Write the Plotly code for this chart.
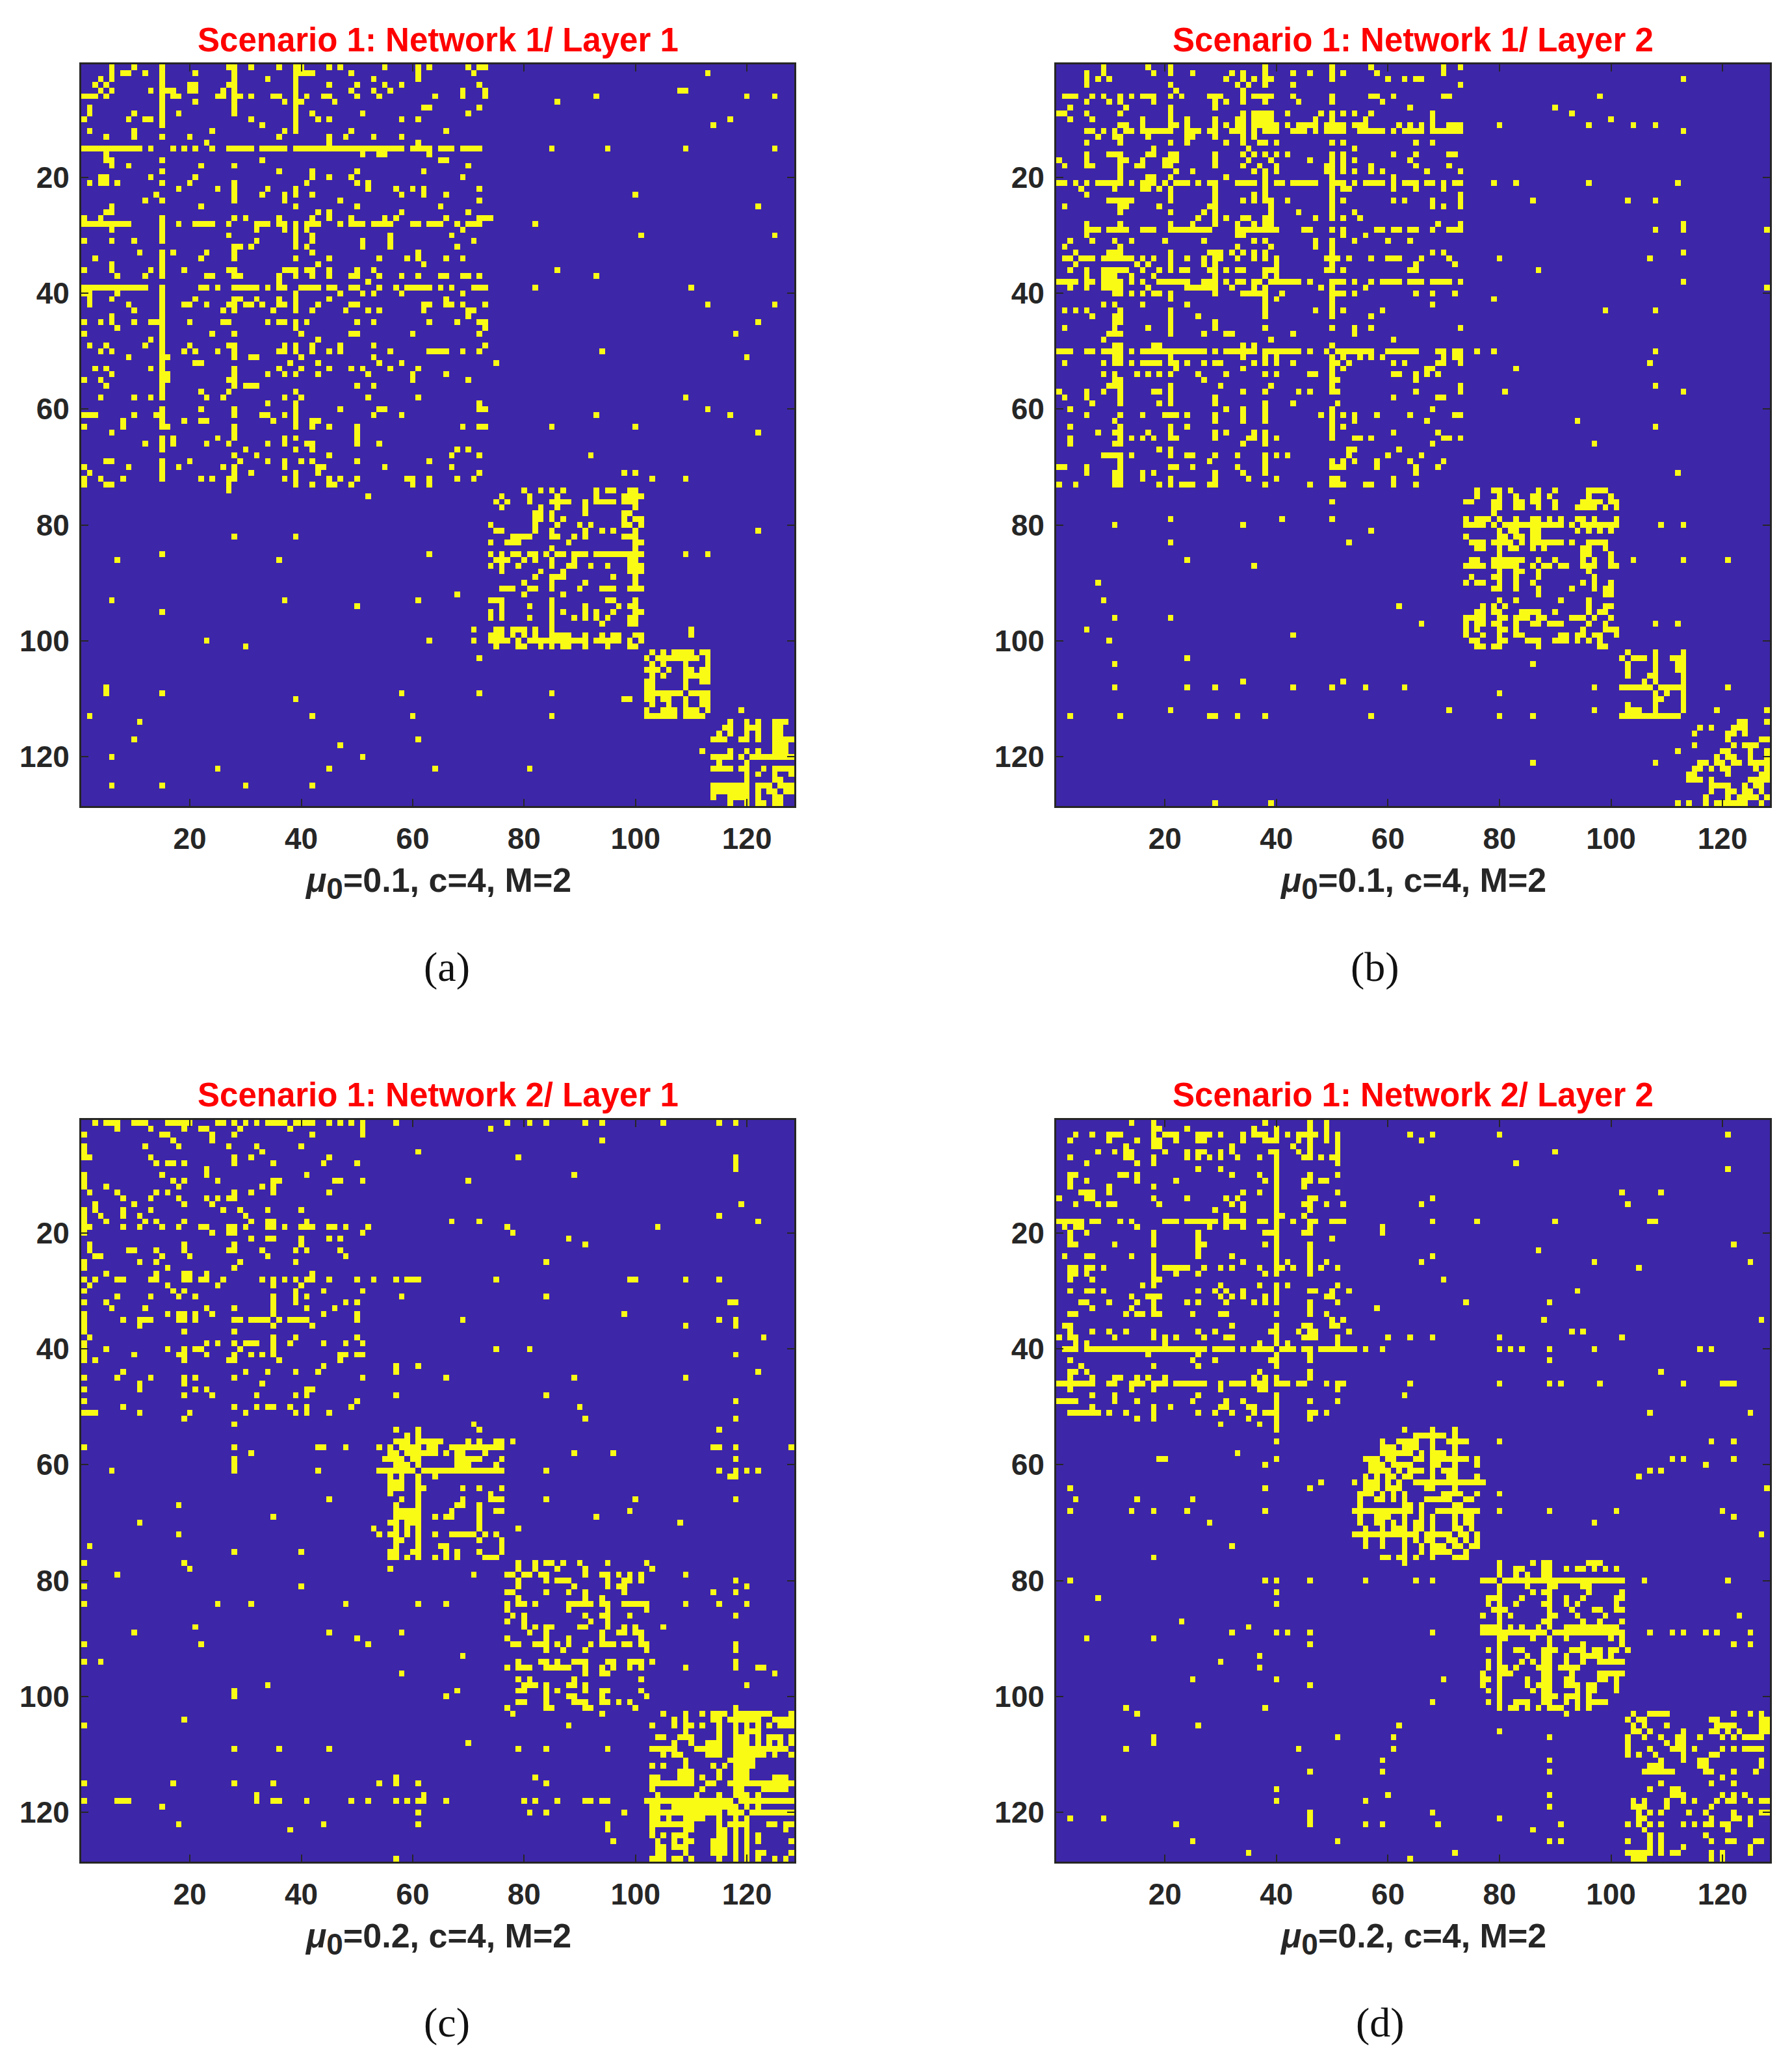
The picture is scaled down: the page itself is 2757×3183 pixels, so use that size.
import numpy as np
import plotly.graph_objects as go

# each entry is (row, columns) for the upper triangle, the matrices are symmetric
net1_layer1 = [
    (1, [6, 10, 15, 27, 28, 31, 36, 39, 40, 45, 47, 55, 61, 63, 70, 72, 73]),
    (2, [6, 8, 9, 12, 15, 21, 28, 39, 40, 41, 42, 49, 61, 71, 113]),
    (3, [4, 6, 15, 28, 34, 39, 53, 61]),
    (4, [5, 15, 20, 21, 27, 28, 39, 45, 50, 55, 58, 72]),
    (5, [6, 13, 15, 16, 17, 20, 21, 26, 28, 39, 49, 53, 56, 69, 73, 108, 109]),
    (6, [15, 17, 18, 25, 26, 28, 29, 31, 35, 36, 39, 41, 44, 45, 50, 54, 64, 69, 73, 93, 120, 125]),
    (7, [15, 21, 28, 37, 39, 40, 46, 86]),
    (8, [15, 28, 39, 62, 63, 72]),
    (9, [10, 15, 18, 28, 39, 42, 51, 70]),
    (10, [12, 13, 15, 31, 39, 43, 45, 58, 61, 117]),
    (11, [15, 33, 39, 114]),
    (12, [24, 37, 39, 49, 66]),
    (13, [15, 20, 36, 45, 48, 53, 58]),
    (14, [23, 45, 61]),
    (15, [17, 19, 21, 24, 27, 28, 29, 30, 31, 33, 34, 35, 36, 37, 39, 40, 41, 42, 43, 44, 45, 46, 47, 48,
          49, 50, 51, 52, 53, 54, 55, 56, 57, 58, 60, 61, 62, 63, 65, 66, 67, 69, 70, 71, 72, 85, 95, 109, 125]),
    (16, [51, 54, 55, 63]),
    (17, [33, 65, 66]),
    (18, [22, 28, 70]),
    (19, [36, 42, 50, 62]),
    (20, [21, 42, 45, 49, 69]),
    (21, [28, 41, 50, 52]),
    (22, [25, 28, 34, 39, 52, 57, 60, 62, 72]),
    (23, [28, 33, 37, 39, 42, 58, 62, 66, 100]),
    (24, [28, 37, 47, 72]),
    (25, [39, 50, 65, 122]),
    (26, [43, 45, 58, 70]),
    (27, [28, 30, 36, 42, 45, 49, 55, 57, 66, 72, 73, 74]),
    (28, [32, 33, 34, 36, 37, 39, 41, 42, 43, 47, 49, 50, 51, 53, 54, 55, 56, 60, 61, 63, 64, 65, 68, 70, 71, 72, 82]),
    (29, [32, 37, 39, 41, 69]),
    (30, [39, 42, 56, 67, 101, 125]),
    (31, [32, 39, 42, 51, 56, 71]),
    (32, [39, 41, 51, 56, 68]),
    (33, [42, 61]),
    (34, [39, 45, 54, 59, 61, 66, 69]),
    (35, [43, 62]),
    (36, [37, 38, 39, 41, 42, 45, 50, 53, 86]),
    (37, [39, 42, 45, 49, 50, 54, 58, 61, 65, 66, 69, 70, 72, 93]),
    (38, [52]),
    (39, [40, 41, 42, 43, 45, 46, 49, 50, 54, 57, 59, 60, 61, 62, 63, 65, 67, 71, 72, 73, 82, 110]),
    (40, [47, 51, 53, 58, 69]),
    (41, [45, 66]),
    (42, [43, 49, 50, 62, 63, 66, 67, 69, 73, 113, 125]),
    (43, [48, 52, 54, 62, 70, 71]),
    (44, [70]),
    (45, [50, 53, 63, 68, 72, 73, 122]),
    (46, [73]),
    (47, [49, 50, 60, 72, 118]),
    (49, [53, 73]),
    (50, [56, 63, 64, 65, 66, 69, 72, 94]),
    (51, [53, 120]),
    (52, [54, 58, 75]),
    (53, [56, 61]),
    (54, [60, 66]),
    (55, [60, 70]),
    (58, [61, 109]),
    (59, [72]),
    (60, [72, 73, 113]),
    (61, [93, 117]),
    (63, [69, 72, 73, 85, 100]),
    (64, [122]),
    (67, [68, 70]),
    (68, [72, 92]),
    (71, [72, 98, 100]),
    (72, [103, 109]),
    (74, [80, 83, 85, 87, 93, 95, 96, 99, 100]),
    (75, [76, 81, 86, 93, 98, 99, 100, 101]),
    (76, [77, 81, 85, 86, 87, 88, 91, 93, 94, 95, 96, 98, 99, 100]),
    (77, [83, 86, 91, 100]),
    (78, [82, 83, 85, 91, 98, 99]),
    (79, [82, 83, 85, 87, 98, 100, 101]),
    (80, [82, 86, 90, 92, 98, 99, 101]),
    (81, [82, 85, 91, 94, 96, 100, 122]),
    (82, [85, 86, 89, 91, 98, 99, 100]),
    (83, [88, 100, 101]),
    (84, [85, 100]),
    (85, [86, 87, 89, 90, 91, 93, 94, 95, 96, 97, 98, 99, 100, 101, 109, 113]),
    (86, [89, 99, 100]),
    (87, [88, 89, 92, 95, 99, 100, 101]),
    (88, [99, 100, 101]),
    (89, [96, 100]),
    (90, [91, 100]),
    (91, [94, 95, 96, 99, 100, 101]),
    (93, [95, 96, 100]),
    (94, [97, 99, 100]),
    (95, [96, 100, 101]),
    (96, [99, 100]),
    (97, [99, 100]),
    (98, [110]),
    (99, [100, 101, 110]),
    (100, [101]),
    (102, [103, 105, 107, 108, 109, 110, 112, 113]),
    (103, [104, 105, 106, 107, 108, 109, 110, 111, 113]),
    (104, [105, 109, 113]),
    (105, [106, 109, 110, 112, 113]),
    (106, [109, 110, 111, 112, 113]),
    (107, [109, 112, 113]),
    (108, [109]),
    (109, [110, 111, 112, 113]),
    (110, [112, 113]),
    (111, [112, 113]),
    (112, [113, 119]),
    (114, [117, 120, 122, 125, 126, 127]),
    (115, [116, 117, 120, 121, 122, 125, 126]),
    (116, [117, 120, 122, 125, 126]),
    (117, [119, 120, 122, 125, 126, 127, 128]),
    (118, [125, 126, 127]),
    (119, [120, 122, 125, 126, 127]),
    (120, [121, 122, 123, 124, 125, 126, 127, 128]),
    (122, [123, 125, 126, 127, 128]),
    (123, [125, 128]),
    (124, [125, 126]),
    (125, [126, 127, 128]),
    (126, [127, 128]),
]

net1_layer2 = [
    (1, [9, 17, 21, 38, 50, 57, 70, 73]),
    (2, [6, 9, 18, 21, 25, 32, 34, 38, 43, 46, 50, 52, 58, 70]),
    (3, [6, 8, 10, 31, 34, 36, 38, 39, 50, 60, 63, 65, 66, 113]),
    (4, [6, 21, 33, 35, 38, 43, 73]),
    (5, [22, 34]),
    (6, [7, 9, 12, 14, 16, 17, 18, 21, 23, 28, 29, 30, 34, 36, 37, 38, 39, 43, 50, 57, 58, 61, 70, 71, 98]),
    (7, [10, 12, 18, 29, 31, 34, 38, 44, 50, 59]),
    (8, [13, 21, 29, 64, 90]),
    (9, [12, 21, 34, 36, 37, 38, 39, 42, 48, 50, 52, 54, 57, 68, 93]),
    (10, [16, 21, 24, 29, 33, 34, 36, 37, 38, 39, 47, 50, 56, 68, 100]),
    (11, [12, 13, 16, 21, 22, 24, 29, 31, 33, 34, 36, 37, 38, 39, 40, 42, 44, 45, 46, 47, 49, 50, 51, 52, 54,
          55, 56, 62, 64, 66, 68, 71, 72, 73, 80, 96, 104, 108]),
    (12, [13, 14, 16, 17, 18, 19, 20, 21, 24, 25, 26, 28, 29, 32, 33, 34, 36, 38, 39, 40, 43, 44, 45, 47, 49,
          50, 51, 52, 55, 56, 57, 58, 59, 61, 63, 64, 65, 66, 68, 69, 70, 71, 72, 73, 113]),
    (13, [17, 24, 25, 29, 34, 36]),
    (14, [21, 24, 31, 34, 37, 38, 40, 50, 52, 65, 68]),
    (15, [18, 35, 54]),
    (16, [17, 18, 21, 22, 29, 34, 36, 38, 40, 42, 50, 52, 61, 65, 71, 72]),
    (17, [20, 21, 22, 29, 35, 39, 46, 50, 52, 54, 64]),
    (18, [20, 21, 29, 34, 37, 40, 49, 50, 52, 57, 65, 71]),
    (19, [22, 25, 36, 38, 40, 49, 50, 52, 54, 57, 59, 67, 73]),
    (20, [21, 31, 38, 50, 61]),
    (21, [22, 23, 24, 26, 28, 29, 33, 34, 35, 36, 38, 40, 41, 43, 44, 45, 46, 47, 50, 51, 52, 54, 56, 57, 58,
          59, 61, 63, 64, 65, 67, 68, 70, 72, 73, 79, 83, 96, 112]),
    (22, [29, 38, 50, 52, 53, 61, 65, 70]),
    (23, [29, 36, 38, 50, 73]),
    (24, [29, 34, 36, 38, 39, 42, 50, 52, 61, 63, 68, 73, 86, 103, 108]),
    (25, [28, 29, 39, 50, 68, 70, 73]),
    (26, [27, 29, 39, 44, 50, 54]),
    (27, [29, 31, 34, 35, 38, 39, 47, 50, 52, 55]),
    (28, [29, 33, 36, 38, 39, 69, 73, 113]),
    (29, [33, 34, 35, 36, 37, 38, 39, 40, 45, 46, 50, 52, 58, 59, 61, 62, 64, 65, 68, 71, 72, 73, 108, 113, 128]),
    (30, [33, 34, 52, 56]),
    (31, [36, 38, 47, 50, 54, 60, 64]),
    (32, [33, 39, 47, 50]),
    (33, [34, 36, 38, 50, 68, 70, 113]),
    (34, [36, 38, 40, 49, 50, 51, 53, 57, 60, 61, 62, 66, 71, 80, 107]),
    (35, [40, 50, 65, 72]),
    (36, [38, 39, 40, 49, 50, 52, 64, 65, 87]),
    (37, [38, 40]),
    (38, [39, 40, 41, 42, 43, 44, 46, 50, 51, 52, 54, 57, 59, 60, 61, 62, 64, 65, 66, 68, 69, 70, 71, 73, 113]),
    (39, [48, 50, 56, 128]),
    (40, [41, 50, 51, 52, 54, 65, 68, 72]),
    (41, [50, 79]),
    (42, [50, 68]),
    (43, [47, 50, 52, 59, 99, 108]),
    (44, [50, 57]),
    (46, [50, 54, 57, 73]),
    (47, [54]),
    (48, [61]),
    (49, [50]),
    (50, [51, 52, 53, 54, 55, 56, 57, 60, 61, 62, 63, 64, 65, 69, 70, 72, 73, 76, 79, 108]),
    (51, [52, 55, 57, 59, 70, 72, 73]),
    (52, [53, 61, 63, 69, 70, 73, 107]),
    (53, [67, 68, 83]),
    (54, [61, 62, 65, 67, 69]),
    (55, [65]),
    (56, [73, 108]),
    (57, [65, 73, 81, 113]),
    (58, [61, 69, 70]),
    (60, [68]),
    (61, [64, 72, 73]),
    (62, [67, 94]),
    (63, [108]),
    (64, [69]),
    (65, [70, 71, 73]),
    (66, [68, 97]),
    (69, [70]),
    (71, [112]),
    (74, [76, 79, 80, 82, 87, 90, 96, 97, 98, 99]),
    (75, [76, 80, 83, 86, 87, 89, 96, 100]),
    (76, [79, 80, 83, 84, 86, 87, 90, 95, 96, 97, 98, 100, 101]),
    (77, [79, 80, 83, 84, 87, 90, 94, 95, 96, 97, 99, 101]),
    (78, [79]),
    (79, [80, 83, 86, 87, 89, 91, 94, 95, 97, 101]),
    (80, [81, 82, 83, 84, 85, 86, 87, 88, 89, 90, 91, 93, 95, 96, 97, 98, 99, 100, 101, 109, 113]),
    (81, [82, 83, 86, 87, 94, 96, 98, 100]),
    (82, [83, 84, 86, 87]),
    (83, [84, 86, 87, 88, 89, 90, 91, 93, 96, 97, 98, 99]),
    (84, [86, 88, 95, 96, 99]),
    (85, [95, 96, 100]),
    (86, [87, 90, 95, 97, 100, 104, 113, 121]),
    (87, [88, 89, 91, 92, 95, 96, 97, 100, 101]),
    (88, [96]),
    (89, [97]),
    (90, [95, 97, 100]),
    (91, [93, 97, 99, 100]),
    (92, [99, 100]),
    (93, [96]),
    (94, [96, 99, 100]),
    (95, [96, 98, 99]),
    (96, [97, 100]),
    (97, [99, 108, 112]),
    (98, [99, 100, 101]),
    (99, [101]),
    (102, [103, 108, 113]),
    (103, [104, 105, 106, 108, 111, 112, 113]),
    (104, [108, 112, 113]),
    (105, [108, 112, 113]),
    (106, [107, 108, 113]),
    (107, [108, 113]),
    (108, [109, 110, 111, 112, 113, 121]),
    (109, [110, 113]),
    (110, [113]),
    (111, [113]),
    (112, [113, 119, 128]),
    (114, [123, 124, 128]),
    (115, [116, 118, 122, 123, 124]),
    (116, [121, 122, 124]),
    (117, [121, 127, 128]),
    (118, [122, 124, 125, 126]),
    (119, [120, 121, 125, 128]),
    (120, [121, 122, 125, 128]),
    (121, [122, 123, 125, 126, 127, 128]),
    (122, [126, 128]),
    (123, [127, 128]),
    (124, [125, 126, 127, 128]),
    (125, [126, 127]),
    (126, [127]),
    (127, [128]),
]

net2_layer1 = [
    (1, [3, 5, 6, 7, 10, 11, 12, 16, 17, 18, 19, 20, 25, 26, 28, 30, 32, 34, 35, 36, 37, 39, 40, 41, 42, 45,
         47, 49, 51, 57, 77, 81, 84, 91, 94, 105, 115, 118]),
    (2, [7, 13, 19, 22, 23, 29, 38, 51, 74]),
    (3, [15, 16, 24, 28, 42, 51]),
    (4, [17, 24, 94]),
    (5, [12, 18, 27, 32, 40]),
    (6, [33, 61]),
    (7, [13, 28, 31, 45, 79, 118]),
    (8, [14, 16, 17, 19, 28, 35, 44, 50, 118]),
    (9, [23, 118]),
    (10, [15, 23, 41, 89]),
    (11, [17, 19, 25, 35, 36, 46, 47, 51, 70]),
    (12, [18, 33, 35]),
    (13, [14, 16, 28, 31, 35, 45]),
    (14, [18, 23, 25, 27, 28]),
    (15, [19, 24, 119]),
    (16, [26, 29, 34, 40]),
    (17, [30, 115]),
    (18, [19, 31, 34, 35, 41, 67, 72, 122]),
    (19, [22, 23, 27, 28, 30, 34, 35, 37, 40, 41, 42, 45, 46, 48, 52, 77, 104]),
    (20, [24, 27, 28, 51, 78]),
    (21, [31, 34, 35, 40, 45, 47, 88]),
    (22, [28, 40, 91]),
    (23, [27, 28, 33, 39, 41, 47]),
    (24, [34, 48]),
    (25, [29, 39, 84]),
    (26, [28]),
    (27, [42]),
    (28, [33, 35, 37, 39, 41, 42, 45, 50, 53, 57, 59, 60, 61, 75, 99, 100, 109, 115]),
    (29, [35, 40]),
    (30, [39, 44, 51]),
    (31, [35, 39, 41, 58, 84]),
    (32, [35, 39, 48, 50, 117, 118]),
    (33, [35, 41, 46]),
    (34, [35, 44, 50, 98]),
    (35, [36, 38, 39, 40, 41, 50, 69, 115, 118]),
    (36, [42, 109, 118]),
    (38, [39, 50, 123]),
    (39, [44, 48, 51]),
    (40, [75, 81]),
    (41, [47, 48, 50, 51, 118]),
    (42, [47]),
    (43, [44, 57, 61]),
    (44, [57, 122]),
    (45, [51, 66, 89, 109]),
    (48, [57, 84]),
    (49, [50, 118]),
    (50, [90]),
    (52, [91, 118]),
    (53, [71]),
    (54, [57, 61, 72, 115]),
    (55, [59, 61]),
    (56, [57, 58, 59, 61, 62, 63, 64, 65, 70, 72, 75, 76, 78]),
    (57, [58, 59, 60, 61, 63, 64, 67, 68, 69, 70, 71, 72, 73, 74, 75, 76, 114, 115, 118, 128]),
    (58, [59, 60, 61, 62, 63, 64, 66, 68, 69, 73, 89, 96]),
    (59, [60, 61, 68, 69, 70, 71, 72, 76, 118]),
    (60, [61, 68, 69, 70, 75]),
    (61, [62, 63, 64, 65, 66, 67, 68, 69, 70, 71, 72, 73, 74, 75, 76, 84, 115, 118, 120, 122]),
    (62, [64, 117, 118]),
    (64, [69, 72, 76]),
    (65, [74]),
    (66, [69, 74, 75, 76, 84, 100, 118]),
    (67, [68, 69, 72]),
    (68, [72, 75, 76, 99]),
    (69, [72, 93]),
    (70, [72, 108]),
    (71, [72, 79]),
    (72, [73, 75]),
    (73, [76]),
    (74, [76]),
    (75, [76]),
    (77, [79, 82, 84, 85, 87, 90, 95, 102]),
    (78, [79, 82, 86, 91, 103]),
    (79, [80, 81, 83, 84, 91, 94, 95, 97, 99, 101, 109]),
    (80, [84, 86, 87, 88, 95, 98, 99, 101, 118]),
    (81, [89, 95, 97, 98, 120]),
    (82, [84, 88, 91, 98, 114, 118]),
    (83, [91, 94]),
    (84, [88, 89, 90, 91, 92, 94, 95, 98, 99, 100, 101, 102, 109, 115, 120]),
    (85, [88, 95, 102]),
    (86, [91, 94, 95, 99, 118]),
    (87, [92, 95]),
    (88, [90, 91, 95, 98, 100, 105]),
    (89, [94, 97, 98, 100, 101]),
    (90, [94, 101]),
    (91, [92, 94, 95, 96, 98, 99, 101, 102, 118]),
    (92, [102, 118]),
    (94, [95, 96, 99, 100, 101, 103, 118]),
    (95, [96, 99, 101, 109, 118, 122, 123]),
    (96, [125]),
    (97, [101]),
    (98, [120]),
    (99, [101]),
    (100, [102]),
    (102, [118]),
    (103, [105, 109, 112, 114, 115, 116, 118, 119, 120, 121, 122, 123, 124, 128]),
    (104, [107, 109, 114, 115, 117, 118, 119, 120, 121, 122, 125, 126, 127, 128]),
    (105, [107, 109, 110, 112, 115, 118, 120, 122, 124, 126, 127, 128]),
    (106, [109, 115, 118, 120, 121, 122]),
    (107, [108, 109, 110, 115, 118, 119, 120, 122, 124, 125, 126, 128]),
    (108, [110, 113, 114, 115, 118, 119, 120, 122, 124, 126, 128]),
    (109, [111, 112, 113, 114, 115, 118, 119, 120, 121, 122, 123, 124, 125, 126, 127]),
    (110, [113, 114, 115, 118, 119, 120, 121, 122, 123, 125, 128]),
    (111, [117, 118, 119, 120, 121]),
    (112, [114, 116, 118, 119, 120, 121]),
    (113, [115, 118, 119, 120]),
    (114, [115, 118, 119, 120, 125, 126, 127]),
    (115, [117, 118, 119, 120, 121, 122, 123, 124, 125, 126, 127, 128]),
    (116, [118, 119, 123, 124, 125, 126, 127]),
    (117, [118, 119, 120, 122]),
    (118, [119, 120, 121, 122, 123, 124, 125, 126, 127, 128]),
    (119, [120, 122]),
    (120, [121, 122, 123, 124, 125, 126, 127, 128]),
    (122, [124, 125, 127, 128]),
    (123, [127]),
    (125, [128]),
    (127, [128]),
]

net2_layer2 = [
    (1, [14, 18, 38, 46, 49]),
    (2, [18, 19, 24, 36, 40, 46, 49]),
    (3, [4, 7, 10, 11, 12, 18, 20, 21, 22, 26, 27, 28, 30, 34, 36, 37, 38, 40, 42, 44, 45, 46, 47, 49, 51, 64, 68, 80, 121]),
    (4, [10, 15, 18, 19, 22, 26, 27, 34, 38, 39, 40, 44, 46, 49, 51, 66]),
    (5, [13, 18, 19, 32, 43, 46, 51]),
    (6, [8, 11, 13, 14, 20, 24, 26, 27, 30, 32, 39, 40, 44, 46, 51, 90]),
    (7, [13, 14, 18, 24, 26, 28, 30, 33, 37, 40, 45, 46, 48, 50, 51]),
    (8, [15, 18, 40, 51, 83]),
    (9, [26, 30, 40, 121]),
    (10, [12, 13, 15, 32, 37, 40, 46, 51]),
    (11, [15, 22, 38, 40, 45, 46, 48, 49]),
    (12, [18, 40, 45]),
    (13, [34, 37, 40, 51, 102, 109]),
    (14, [18, 24, 31, 33, 40, 46, 47, 68]),
    (15, [19, 32, 34, 40, 45, 46, 49, 52, 66, 103]),
    (16, [29, 34, 40, 46]),
    (17, [31, 40, 41, 45]),
    (18, [20, 21, 22, 24, 25, 26, 27, 28, 29, 31, 32, 33, 34, 37, 38, 40, 43, 46, 47, 50, 51, 52, 68, 76, 90, 107, 108]),
    (19, [28, 31, 34, 40, 46, 59]),
    (20, [26, 38, 39, 40, 45, 46, 59]),
    (21, [26, 40, 50]),
    (22, [26, 27, 38, 40, 46, 122]),
    (23, [26, 40, 46, 87]),
    (24, [26, 32, 40, 46, 68]),
    (25, [34, 40, 42, 46, 49, 66, 97, 125]),
    (26, [27, 30, 32, 37, 40, 41, 43, 46, 48, 51, 105]),
    (27, [38, 40, 46]),
    (28, [70]),
    (29, [30, 37, 40, 42, 51]),
    (30, [31, 34, 40, 46, 47, 50, 53, 94]),
    (31, [32, 34, 38, 40, 49, 50]),
    (32, [36, 38, 40, 46, 51, 74, 89]),
    (33, [46, 58]),
    (34, [40, 46, 49]),
    (35, [50, 52, 88, 127]),
    (36, [40, 45, 46, 50, 51]),
    (37, [39, 40, 44, 46, 47, 53, 93, 95]),
    (38, [40, 45, 46, 47, 51, 60, 64, 68, 80, 102]),
    (39, [40, 42, 51]),
    (40, [41, 42, 43, 45, 46, 48, 49, 50, 51, 52, 53, 54, 56, 59, 80, 82, 84, 89, 97, 116, 118]),
    (41, [46]),
    (42, [46, 89]),
    (44, [46, 109]),
    (45, [46]),
    (46, [49, 51, 52, 64, 80, 89, 91, 98, 113, 120, 121, 122]),
    (47, [51]),
    (48, [63]),
    (49, [51]),
    (51, [107, 125]),
    (54, [63, 68, 72]),
    (55, [65, 66, 67, 68, 69, 70, 72]),
    (56, [59, 62, 63, 64, 65, 68, 71, 72, 73, 74, 80, 118, 122]),
    (57, [59, 60, 61, 63, 64, 65, 68, 72]),
    (58, [59, 60, 61, 62, 63, 64, 66, 68, 69, 70, 72]),
    (59, [60, 61, 65, 66, 68, 69, 70, 71, 72, 73, 74, 76, 111, 113, 122]),
    (60, [61, 62, 63, 64, 68, 69, 72, 76, 117]),
    (61, [62, 64, 65, 66, 68, 70, 71, 72, 107, 109]),
    (62, [63, 64, 68, 71, 72, 76, 105]),
    (63, [65, 66, 67, 68, 69, 70, 71, 72, 73, 74, 75, 76, 77]),
    (64, [67, 68, 72, 128]),
    (65, [70, 71, 72, 73, 76, 80]),
    (66, [67, 68, 69, 70, 71, 74, 75]),
    (67, [72, 73]),
    (68, [69, 70, 71, 72, 73, 74, 75, 76, 80, 89, 101, 120]),
    (69, [72, 74, 75, 122]),
    (70, [72, 74, 75, 97]),
    (71, [72, 73, 75]),
    (72, [73, 74, 76, 127]),
    (73, [74, 76]),
    (74, [75, 76]),
    (77, [80, 86, 88, 89, 96, 97, 98]),
    (78, [80, 83, 84, 88, 89, 92, 94, 95, 97, 99, 101]),
    (79, [80, 83, 85, 88, 89]),
    (80, [81, 82, 83, 84, 85, 86, 87, 88, 89, 90, 91, 92, 93, 94, 95, 96, 97, 98, 99, 100, 101, 102, 106, 121]),
    (81, [85, 89, 90, 95, 96]),
    (82, [86, 88, 89, 96, 102]),
    (83, [84, 89, 92, 95, 101, 102]),
    (84, [88, 89, 92, 94, 101]),
    (85, [89, 93, 97, 98, 101, 102]),
    (86, [89, 90, 94, 99, 123]),
    (87, [88, 89, 95, 98, 102]),
    (88, [89, 92, 93, 94, 95, 96, 97, 98, 99, 100, 101]),
    (89, [90, 91, 92, 93, 94, 95, 96, 97, 98, 99, 100, 101, 102, 107, 111, 113, 117, 119, 125]),
    (90, [92, 100, 102]),
    (91, [95, 102, 122, 125]),
    (92, [93, 94, 95, 97, 98, 100, 101, 103]),
    (93, [95, 96, 97, 98, 100]),
    (94, [95, 98, 99, 100, 101, 102]),
    (96, [98, 99, 100, 101, 102]),
    (97, [98, 99, 101]),
    (98, [101]),
    (99, [101]),
    (103, [104, 107, 108, 109, 110, 122, 125, 127]),
    (104, [105, 106, 118, 119, 127, 128]),
    (105, [106, 110, 119, 120, 121, 122, 127, 128]),
    (106, [107, 113, 118, 119, 121, 123, 127, 128]),
    (107, [109, 112, 113, 116, 120, 122, 124, 125, 126, 127]),
    (108, [110, 112, 113]),
    (109, [111, 112, 113, 115, 120, 122, 124, 125, 126, 127]),
    (110, [113, 118, 119]),
    (111, [113, 116, 117, 127]),
    (112, [116, 117, 127]),
    (113, [117, 118, 122, 126]),
    (114, [120]),
    (115, [118, 122]),
    (117, [120, 122, 124]),
    (118, [119, 121, 122, 125, 127, 128]),
    (120, [122, 127, 128]),
    (121, [122, 123, 125]),
    (122, [125]),
    (125, [126, 127]),
]

panel_data = [net1_layer1, net1_layer2, net2_layer1, net2_layer2]
panel_titles = [
    "Scenario 1: Network 1/ Layer 1",
    "Scenario 1: Network 1/ Layer 2",
    "Scenario 1: Network 2/ Layer 1",
    "Scenario 1: Network 2/ Layer 2",
]
panel_mu = ["0.1", "0.1", "0.2", "0.2"]
panel_captions = ["(a)", "(b)", "(c)", "(d)"]
tick_values = [20, 40, 60, 80, 100, 120]

WIDTH = 2757
HEIGHT = 3183
# x0, x1, y0, y1 of every axes box in pixels
boxes = [(125, 1222, 99, 1240), (1625, 2723, 99, 1240), (125, 1222, 1723, 2864), (1625, 2723, 1723, 2864)]
caption_x = [687, 2115, 687, 2123]


def build_matrix(rows):
    z = np.zeros((128, 128))
    for row, cols in rows:
        for col in cols:
            z[row - 1, col - 1] = 1
            z[col - 1, row - 1] = 1
    return z


def px_x(x):
    return x / WIDTH


def px_y(y):
    return 1 - y / HEIGHT


fig = go.Figure()
annotations = []
axis_font = dict(family="Liberation Sans", size=46, color="#262626", weight=700)

for i, rows in enumerate(panel_data):
    x0, x1, y0, y1 = boxes[i]
    n = "" if i == 0 else str(i + 1)
    fig.add_trace(
        go.Heatmap(
            z=build_matrix(rows),
            x=list(range(1, 129)),
            y=list(range(1, 129)),
            colorscale=[[0, "#3E26A8"], [1, "#F9FB15"]],
            zmin=0,
            zmax=1,
            showscale=False,
            xaxis="x" + n,
            yaxis="y" + n,
        )
    )
    shared = dict(
        tickvals=tick_values,
        ticks="inside",
        ticklen=11,
        tickwidth=2,
        tickcolor="#262626",
        showline=True,
        linecolor="#262626",
        linewidth=3,
        mirror="ticks",
        showgrid=False,
        zeroline=False,
        tickfont=axis_font,
    )
    fig.update_layout(
        {
            "xaxis" + n: dict(
                domain=[px_x(x0), px_x(x1)], range=[0.5, 128.5], anchor="y" + n,
                ticklabelstandoff=8, **shared
            ),
            "yaxis" + n: dict(
                domain=[px_y(y1), px_y(y0)], range=[128.5, 0.5], anchor="x" + n,
                ticklabelstandoff=6, **shared
            ),
        }
    )
    center = (x0 + x1) / 2
    annotations.append(
        dict(
            x=px_x(center), y=px_y(y0 - 38), text="<b>" + panel_titles[i] + "</b>",
            font=dict(family="Liberation Sans", size=51, color="#FF0000"),
        )
    )
    annotations.append(
        dict(
            x=px_x(center), y=px_y(y1 + 119),
            text="<b><i>\u03bc</i><sub><span style=\"font-size:46px\">0</span></sub>=" + panel_mu[i] + ", c=4, M=2</b>",
            font=dict(family="Liberation Sans", size=52, color="#262626"),
        )
    )
    annotations.append(
        dict(
            x=px_x(caption_x[i]), y=px_y(y1 + 247), text=panel_captions[i],
            font=dict(family="Liberation Serif", size=64, color="#111111"),
        )
    )

for a in annotations:
    a.update(xref="paper", yref="paper", showarrow=False, xanchor="center", yanchor="middle")

fig.update_layout(
    width=WIDTH,
    height=HEIGHT,
    margin=dict(l=0, r=0, t=0, b=0),
    paper_bgcolor="white",
    plot_bgcolor="white",
    showlegend=False,
    annotations=annotations,
)
fig.write_html("out.html", config=dict(displayModeBar=False), post_script="document.body.style.margin='0';")
